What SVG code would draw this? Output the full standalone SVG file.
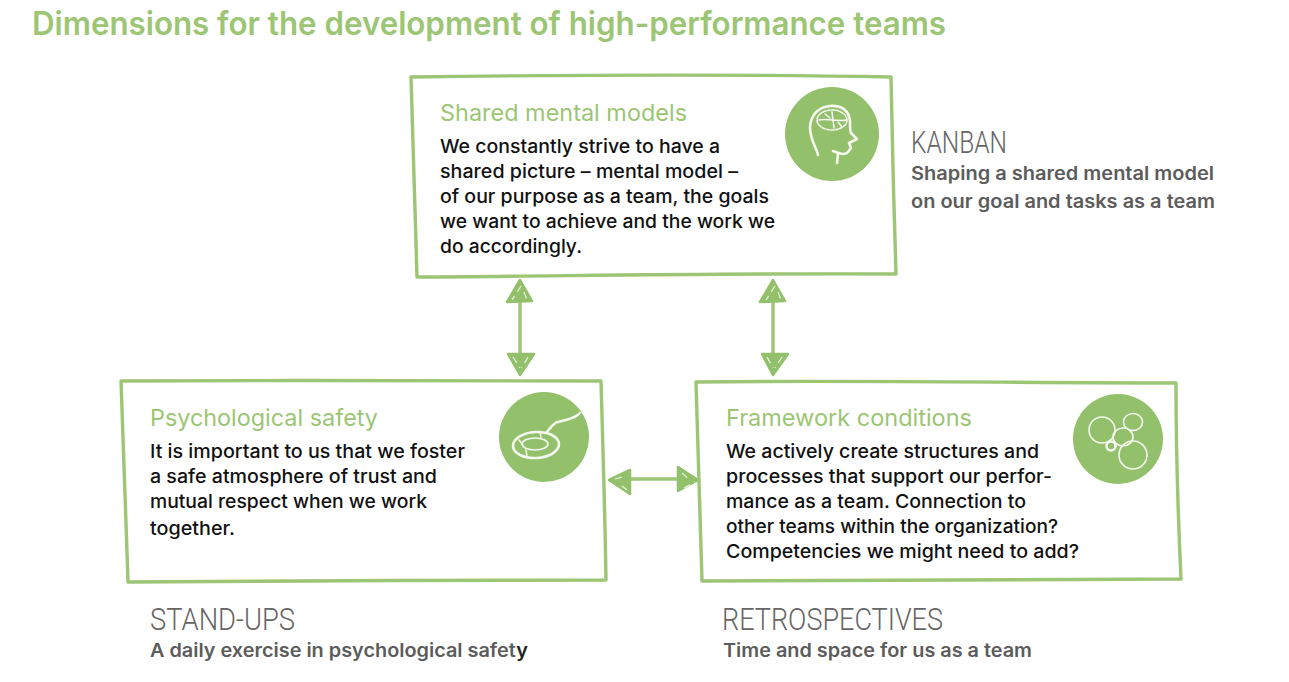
<svg xmlns="http://www.w3.org/2000/svg" width="1289" height="682" viewBox="0 0 1289 682">
<style>
text{font-family:"Inter","Liberation Sans",sans-serif;white-space:pre}
.t{font-size:32px;font-weight:600;fill:#9cc574}
.h{font-size:23px;font-weight:400;fill:#9cc574}
.b{font-size:18.5px;font-weight:500;fill:#111}
.g{font-size:18.5px;font-weight:600;fill:#5c5c5c}
.k{font-family:"Roboto","Liberation Sans",sans-serif;font-size:31px;font-weight:300;fill:#666}
.box{fill:none;stroke:#9cc574;stroke-width:3.4;stroke-linejoin:round;stroke-linecap:round}
.c{fill:#93c06b}
.w{fill:none;stroke:#f4f8ef;stroke-width:1.6;stroke-linecap:round;stroke-linejoin:round}
.w2{fill:none;stroke:#f4f8ef;stroke-width:2.6;stroke-linecap:round;stroke-linejoin:round}
.l{fill:none;stroke:#9cc574;stroke-width:3.4}
.a{fill:#93c06b;stroke:#93c06b;stroke-width:2.5;stroke-linejoin:round}
.s{fill:none;stroke:#e8f2dd;stroke-width:1.2;stroke-dasharray:7 5}
</style>
<rect width="1289" height="682" fill="#fff"/>
<text class="t" x="32" y="35" textLength="914" lengthAdjust="spacingAndGlyphs">Dimensions for the development of high-performance teams</text>

<g id="connectors">
<g><path class="l" d="M520 300V358"/><path class="a" d="M520 280L532 301L507 302Z"/><path class="a" d="M508 354L534 354L520 375Z"/><path class="s" d="M521 286L512 300M524 292L527 300M513 357L520 368M528 357L522 368"/></g>
<g><path class="l" d="M773 300V358"/><path class="a" d="M773 280L785 301L760 302Z"/><path class="a" d="M762 354L788 354L773 375Z"/><path class="s" d="M775 286L766 300M778 292L781 300M767 357L773 368M782 357L775 368"/></g>
<g><path class="l" d="M628 479H680"/><path class="a" d="M609 480L630 470L630 494Z"/><path class="a" d="M678 467L698 480L678 491Z"/><path class="s" d="M615 479L626 476M622 486L627 490M682 473L690 480M684 488L695 482"/></g>
</g>

<g id="shared-mental-models">
<path class="box" d="M411 77C560 75 740 74 891 77C892 140 894 210 896 274C740 273 570 276 417 277C415 210 413 140 411 77Z"/>
<text class="h" x="440" y="121" textLength="247" lengthAdjust="spacingAndGlyphs">Shared mental models</text>
<text class="b" x="440" y="153" textLength="280" lengthAdjust="spacingAndGlyphs">We constantly strive to have a</text>
<text class="b" x="440" y="178" textLength="298" lengthAdjust="spacingAndGlyphs">shared picture – mental model –</text>
<text class="b" x="440" y="203" textLength="329" lengthAdjust="spacingAndGlyphs">of our purpose as a team, the goals</text>
<text class="b" x="440" y="228" textLength="335" lengthAdjust="spacingAndGlyphs">we want to achieve and the work we</text>
<text class="b" x="440" y="253" textLength="142" lengthAdjust="spacingAndGlyphs">do accordingly.</text>
<circle class="c" cx="832" cy="134" r="47"/>
<path class="w2" d="M818 155C817 149 810 140 810 127C811 114 819 107 830 106C842 105 849 111 850 121C850 127 850 131 851 133L857 139L849 143L851 148L848 152C846 155 840 154 833 151M838 153L837 163"/>
<ellipse class="w" cx="832" cy="120" rx="15" ry="10" stroke-dasharray="3 1.5"/>
<path class="w" d="M819 120C826 118 840 122 846 120M832 112L834 128M825 114L830 118M838 122L842 127"/>
</g>

<g id="psychological-safety">
<path class="box" d="M121 381C280 380 450 381 601 381C603 450 605 515 606 580C450 580 280 581 128 582C126 515 123 450 121 381Z"/>
<text class="h" x="150" y="426" textLength="228" lengthAdjust="spacingAndGlyphs">Psychological safety</text>
<text class="b" x="150" y="458" textLength="315" lengthAdjust="spacingAndGlyphs">It is important to us that we foster</text>
<text class="b" x="150" y="483" textLength="287" lengthAdjust="spacingAndGlyphs">a safe atmosphere of trust and</text>
<text class="b" x="150" y="508" textLength="277" lengthAdjust="spacingAndGlyphs">mutual respect when we work</text>
<text class="b" x="150" y="535" textLength="85" lengthAdjust="spacingAndGlyphs">together.</text>
<circle class="c" cx="544" cy="437" r="45"/>
<ellipse class="w2" cx="536" cy="445" rx="23" ry="13" transform="rotate(-3 536 445)"/>
<ellipse class="w" cx="535" cy="444" rx="13" ry="6"/>
<path class="w" d="M519 440L523 445M540 432L541 437M526 450L527 457"/>
<path class="w2" d="M547 432C551 427 554 423 558 422C566 420 575 418 580 413" stroke-dasharray="4 1"/>
</g>

<g id="framework-conditions">
<path class="box" d="M696 382C860 380 1020 383 1176 383C1176 450 1178 515 1181 579C1020 579 860 580 702 581C700 515 698 450 696 382Z"/>
<text class="h" x="726" y="426" textLength="246" lengthAdjust="spacingAndGlyphs">Framework conditions</text>
<text class="b" x="726" y="458" textLength="313" lengthAdjust="spacingAndGlyphs">We actively create structures and</text>
<text class="b" x="726" y="483" textLength="326" lengthAdjust="spacingAndGlyphs">processes that support our perfor-</text>
<text class="b" x="726" y="508" textLength="300" lengthAdjust="spacingAndGlyphs">mance as a team. Connection to</text>
<text class="b" x="726" y="533" textLength="332" lengthAdjust="spacingAndGlyphs">other teams within the organization?</text>
<text class="b" x="726" y="558" textLength="353" lengthAdjust="spacingAndGlyphs">Competencies we might need to add?</text>
<circle class="c" cx="1118" cy="439" r="45"/>
<ellipse class="w" cx="1102" cy="430" rx="13" ry="13"/>
<ellipse class="w" cx="1133" cy="422" rx="9.5" ry="8.5"/>
<ellipse class="w" cx="1123" cy="437" rx="10" ry="9"/>
<ellipse class="w" cx="1133" cy="455" rx="14" ry="14"/>
<circle class="w2" cx="1111" cy="446" r="4.5"/>
</g>

<g id="kanban">
<text class="k" x="911" y="153" textLength="96" lengthAdjust="spacingAndGlyphs">KANBAN</text>
<text class="g" x="911" y="180" textLength="303" lengthAdjust="spacingAndGlyphs">Shaping a shared mental model</text>
<text class="g" x="911" y="208" textLength="304" lengthAdjust="spacingAndGlyphs">on our goal and tasks as a team</text>
</g>
<g id="stand-ups">
<text class="k" x="150" y="630" textLength="145" lengthAdjust="spacingAndGlyphs">STAND-UPS</text>
<text class="g" x="150" y="657" textLength="378" lengthAdjust="spacingAndGlyphs">A daily exercise in psychological safet<tspan fill="#222">y</tspan></text>
</g>
<g id="retrospectives">
<text class="k" x="722" y="630" textLength="221" lengthAdjust="spacingAndGlyphs">RETROSPECTIVES</text>
<text class="g" x="723" y="657" textLength="309" lengthAdjust="spacingAndGlyphs">Time and space for us as a team</text>
</g>
</svg>
